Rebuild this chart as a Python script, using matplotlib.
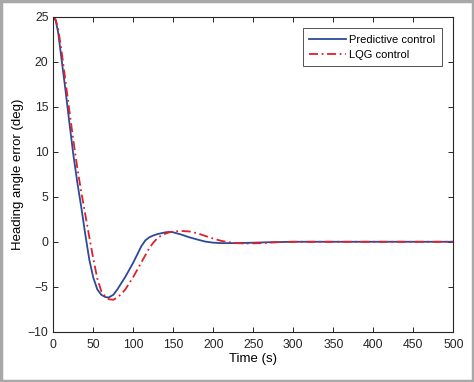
import matplotlib
matplotlib.use("Agg")
import matplotlib.pyplot as plt
from matplotlib.patches import Rectangle

plt.rcParams['font.family'] = ['Liberation Sans', 'DejaVu Sans']

t_pred = [0, 3, 6, 10, 15, 20, 25, 30, 35, 40, 45, 50, 55, 60, 65, 69, 75, 80, 85, 90, 95, 100,
          105, 110, 115, 120, 125, 130, 135, 140, 145, 150, 160, 170, 180, 190, 200, 210,
          230, 250, 270, 300, 350, 400, 450, 500]
y_pred = [25, 24.6, 23.3, 20.5, 17.0, 13.3, 9.7, 6.6, 3.8, 0.8, -2.0, -4.0, -5.3, -5.9, -6.15, -6.2,
          -5.9, -5.3, -4.6, -3.9, -3.1, -2.3, -1.4, -0.5, 0.15, 0.5, 0.7, 0.85, 0.95, 1.05, 1.1,
          1.05, 0.8, 0.5, 0.25, 0.02, -0.1, -0.15, -0.15, -0.1, -0.05, 0.0, 0.0, 0.0, 0.0, 0.0]

t_lqg = [0, 3, 6, 10, 15, 20, 25, 30, 35, 40, 45, 50, 55, 60, 65, 70, 75, 80, 85, 90, 95, 100,
         105, 110, 115, 120, 125, 130, 135, 140, 145, 150, 160, 170, 180, 190, 200, 210, 220,
         230, 240, 260, 280, 300, 350, 400, 450, 500]
y_lqg = [25, 24.7, 23.7, 21.4, 18.0, 14.6, 11.3, 8.2, 5.5, 3.0, 0.5, -1.9, -4.1, -5.5, -6.1, -6.4,
         -6.45, -6.2, -5.8, -5.3, -4.6, -3.9, -3.1, -2.3, -1.5, -0.7, -0.1, 0.4, 0.7, 0.9, 1.05,
         1.15, 1.2, 1.15, 0.95, 0.65, 0.35, 0.1, -0.05, -0.15, -0.2, -0.15, -0.05, 0.0, 0.0, 0.0,
         0.0, 0.0]

x_ticks = [0, 50, 100, 150, 200, 250, 300, 350, 400, 450, 500]
y_ticks = [-10, -5, 0, 5, 10, 15, 20, 25]

fig = plt.figure(figsize=(4.74, 3.82), dpi=100)
fig.patches.append(Rectangle((0.002, 0.002), 0.995, 0.995, transform=fig.transFigure,
                             fill=False, edgecolor='#a8a8a8', linewidth=2.5))
ax = fig.add_axes([0.1125, 0.1317, 0.8438, 0.8238])

ax.plot(t_pred, y_pred, color='#2b4a9a', linewidth=1.3, label='Predictive control')
ax.plot(t_lqg, y_lqg, color='#e0202a', linewidth=1.3, linestyle='-.', dashes=(5, 2, 1, 2),
        label='LQG control')

ax.set_xlim(0, 500)
ax.set_ylim(-10, 25)
ax.set_xticks(x_ticks)
ax.set_yticks(y_ticks)
ax.tick_params(direction='in', top=True, right=True, labelsize=8.8, length=3.5, width=0.7,
               colors='#262626')
ax.tick_params(axis='x', pad=5)
for s in ax.spines.values():
    s.set_linewidth(0.8)
    s.set_color('#262626')
ax.set_xlabel('Time (s)', fontsize=9.5, labelpad=2)
ax.set_ylabel('Heading angle error (deg)', fontsize=9.5, labelpad=3)

leg = ax.legend(loc='upper right', fontsize=8, frameon=True, fancybox=False, handlelength=3.3,
                borderpad=0.6, labelspacing=0.45, handletextpad=0.3, borderaxespad=1.0)
leg.get_frame().set_edgecolor('#262626')
leg.get_frame().set_linewidth(0.7)

fig.savefig('out.png', dpi=100)
